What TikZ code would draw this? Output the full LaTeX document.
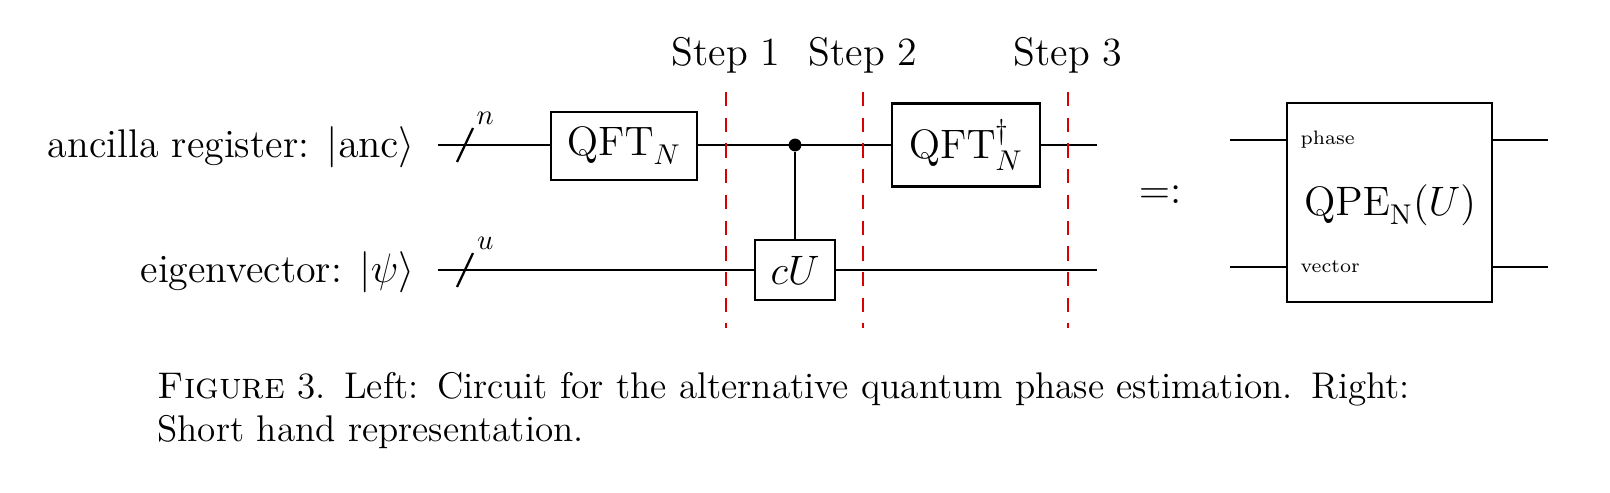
\documentclass[tikz,border=0pt]{standalone}
\usepackage{amsmath}
\begin{document}
\begin{tikzpicture}[x=0.35pt,y=-0.35pt,
  txt/.style={font=\fontsize{14}{17}\selectfont,inner sep=0pt},
  gate/.style={draw,line width=0.8pt,fill=white,inner sep=0pt,font=\fontsize{14}{17}\selectfont},
  wire/.style={line width=0.8pt},
  stepline/.style={red!85!black,line width=0.8pt,dash pattern=on 5pt off 4pt},
  small/.style={font=\fontsize{6.8}{8}\selectfont,inner sep=0pt,anchor=west}]
% labels
\node[txt,anchor=east] (la) at (415,147) {ancilla register: $|\mathrm{anc}\rangle$};
\node[txt,anchor=east] (lb) at (415,272) {eigenvector: $|\psi\rangle$};
\coordinate (a0) at (438,145); \coordinate (a1) at (1097,145);
\coordinate (b0) at (438,270); \coordinate (b1) at (1097,270);
\draw[wire] (a0) -- (a1);
\draw[wire] (b0) -- (b1);
\draw[wire] (457,162) -- (473,128);
\draw[wire] (457,287) -- (473,253);
\node[txt] (sn) at (486,126) {$^{n}$};
\node[txt] (su) at (486,251) {$^{u}$};
% gates
\node[gate,minimum width=146*0.35pt,minimum height=68*0.35pt] (q1) at (624,146) {$\mathrm{QFT}_N$};
\node[gate,minimum width=80*0.35pt,minimum height=60*0.35pt] (cu) at (795,270) {$cU$};
\node[circle,fill,inner sep=0pt,minimum size=4.5pt] (dot) at (795,145) {};
\draw[wire] (dot) -- (cu.north);
\node[gate,minimum width=148*0.35pt,minimum height=83*0.35pt] (q2) at (966,145) {$\mathrm{QFT}_N^\dagger$};
% steps
\foreach \x/\n in {726/1,863/2,1068/3}{
  \draw[stepline] (\x,92) -- (\x,328);
  \node[txt] (s\n) at (\x,55) {Step \n};
}
\node[txt] (eq) at (1160,195) {$=:$};
% QPE box
\node[gate,minimum width=205*0.35pt,minimum height=199*0.35pt] (qpe) at (1389.5,202.5) {};
\node[txt] (qpet) at (1390,205) {$\mathrm{QPE}_{\mathrm{N}}(U)$};
\coordinate (p1) at (1230,140); \coordinate (p2) at (1230,267);
\coordinate (p3) at (1548,140); \coordinate (p4) at (1548,267);
\draw[wire] (p1) -- (1287,140); \draw[wire] (p2) -- (1287,267);
\draw[wire] (1492,140) -- (p3); \draw[wire] (1492,267) -- (p4);
\node[small] (ph) at (1300,140) {phase};
\node[small] (ve) at (1300,267) {vector};
% caption
\node[txt,anchor=north west,text width=1280*0.35pt,align=left,font=\fontsize{13}{15}\selectfont] (cap) at (157,372)
 {\textsc{Figure} 3. Left: Circuit for the alternative quantum phase estimation. Right:\\ Short hand representation.};
\pgfresetboundingbox
\useasboundingbox (0,0) rectangle (1610,492);
\end{tikzpicture}
\end{document}
